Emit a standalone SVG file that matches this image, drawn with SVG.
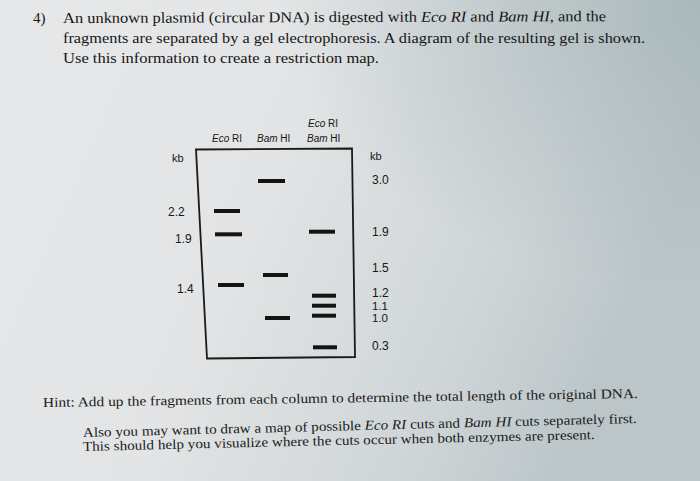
<svg xmlns="http://www.w3.org/2000/svg" width="700" height="481" viewBox="0 0 700 481">
  <defs>
    <linearGradient id="bg" x1="0" y1="0" x2="1" y2="0.3">
      <stop offset="0" stop-color="#e7e8e9"/>
      <stop offset="0.45" stop-color="#e2e4e5"/>
      <stop offset="0.8" stop-color="#cfd5d7"/>
      <stop offset="1" stop-color="#bcc6c9"/>
    </linearGradient>
    <radialGradient id="shade" cx="1" cy="0" r="0.6">
      <stop offset="0" stop-color="#9fb0b4" stop-opacity="0.7"/>
      <stop offset="1" stop-color="#9fb0b4" stop-opacity="0"/>
    </radialGradient>
    <style>
      .q { font-family: "Liberation Serif", "Times New Roman", serif; font-size: 15px; fill: #161616; }
      .h { font-family: "Liberation Serif", "Times New Roman", serif; font-size: 13.5px; fill: #1a1a1a; }
      .lab { font-family: "Liberation Sans", Arial, sans-serif; font-size: 10px; fill: #161616; }
      .num { font-family: "Liberation Sans", Arial, sans-serif; font-size: 12px; fill: #161616; }
      .sm { font-size: 11.5px; }
      .it { font-style: italic; }
      .band { fill: #141414; }
      .gel { fill: none; stroke: #1a1a1a; stroke-width: 1.8; }
    </style>
  </defs>
  <rect width="700" height="481" fill="url(#bg)"/>
  <rect width="700" height="481" fill="url(#shade)"/>

  <g id="question">
    <text class="q" x="33" y="23">4)</text>
    <text class="q" x="63" y="23" textLength="543" lengthAdjust="spacingAndGlyphs" transform="rotate(-0.2 63 23)">An unknown plasmid (circular DNA) is digested with <tspan class="it">Eco RI</tspan> and <tspan class="it">Bam HI</tspan>, and the</text>
    <text class="q" x="63" y="43" textLength="582" lengthAdjust="spacingAndGlyphs">fragments are separated by a gel electrophoresis. A diagram of the resulting gel is shown.</text>
    <text class="q" x="63" y="63" textLength="316" lengthAdjust="spacingAndGlyphs">Use this information to create a restriction map.</text>
  </g>

  <g id="gel">
    <text class="lab" x="212" y="142"><tspan class="it">Eco</tspan> RI</text>
    <text class="lab" x="257" y="142"><tspan class="it">Bam</tspan> HI</text>
    <text class="lab" x="308" y="127"><tspan class="it">Eco</tspan> RI</text>
    <text class="lab" x="307" y="142"><tspan class="it">Bam</tspan> HI</text>
    <text class="num" x="172" y="162" style="font-size:11px">kb</text>
    <text class="num" x="370" y="160" style="font-size:11px">kb</text>

    <polygon class="gel" points="196,149.5 352,148.5 355,357 207,358.5"/>

    <g id="lane-ecori">
      <rect class="band" x="214" y="209" width="26" height="4"/>
      <rect class="band" x="215" y="232.3" width="27" height="4"/>
      <rect class="band" x="218" y="283" width="26" height="4"/>
    </g>
    <g id="lane-bamhi">
      <rect class="band" x="258" y="179" width="27" height="4"/>
      <rect class="band" x="263" y="273" width="25" height="4"/>
      <rect class="band" x="265" y="316" width="25" height="4"/>
    </g>
    <g id="lane-both">
      <rect class="band" x="309" y="229.7" width="26" height="4"/>
      <rect class="band" x="312" y="293.7" width="24" height="4"/>
      <rect class="band" x="312" y="303.7" width="24" height="4"/>
      <rect class="band" x="312" y="313.7" width="24" height="4"/>
      <rect class="band" x="313" y="345.3" width="24" height="4"/>
    </g>

    <text class="num" x="168" y="216">2.2</text>
    <text class="num" x="175" y="242.5">1.9</text>
    <text class="num" x="177" y="293">1.4</text>

    <text class="num" x="372" y="184">3.0</text>
    <text class="num" x="372" y="236">1.9</text>
    <text class="num" x="372" y="272">1.5</text>
    <text class="num" x="372" y="297">1.2</text>
    <text class="num sm" x="372" y="309.5">1.1</text>
    <text class="num sm" x="372" y="322">1.0</text>
    <text class="num" x="372" y="350">0.3</text>
  </g>

  <g id="hint">
    <text class="h" x="43" y="407" textLength="595" lengthAdjust="spacingAndGlyphs" transform="rotate(-0.87 43 407)">Hint: Add up the fragments from each column to determine the total length of the original DNA.</text>
    <text class="h" x="83" y="437" textLength="554" lengthAdjust="spacingAndGlyphs" transform="rotate(-1.45 83 437)">Also you may want to draw a map of possible <tspan class="it">Eco RI</tspan> cuts and <tspan class="it">Bam HI</tspan> cuts separately first.</text>
    <text class="h" x="83" y="451" textLength="512" lengthAdjust="spacingAndGlyphs" transform="rotate(-1.34 83 451)">This should help you visualize where the cuts occur when both enzymes are present.</text>
  </g>
</svg>
